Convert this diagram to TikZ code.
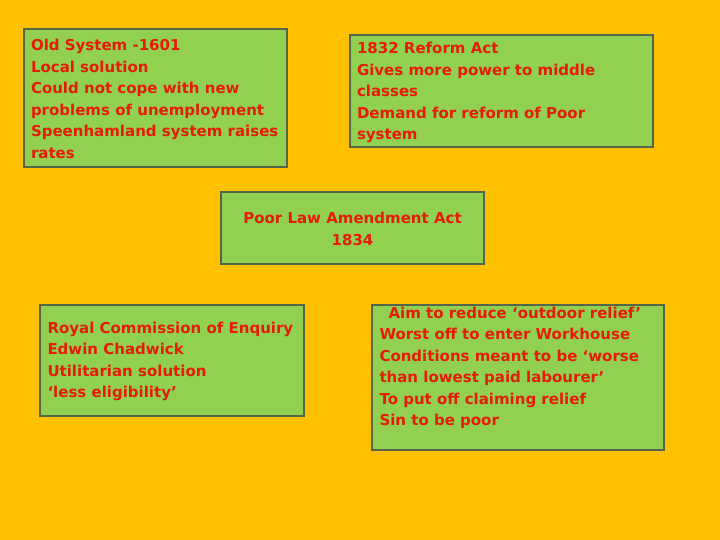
\documentclass[tikz,border=0pt]{standalone}
\usepackage{fontspec}
\setmainfont{DejaVu Sans}
\definecolor{bgorange}{RGB}{255,192,0}
\definecolor{boxgreen}{RGB}{146,208,80}
\definecolor{boxedge}{RGB}{85,100,75}
\definecolor{txtred}{RGB}{228,28,8}
\tikzset{
  card/.style={draw=boxedge, line width=2pt, fill=boxgreen, anchor=north west,
    text=txtred, font=\fontsize{15}{21.5}\selectfont\bfseries, inner xsep=7pt},
}
\newcommand{\cardtext}[3]{\parbox[t][#1][t]{#2}{\rule{0pt}{12pt}#3}}
\begin{document}
\begin{tikzpicture}[x=1pt,y=-1pt]
\fill[bgorange] (0,0) rectangle (720,540);
\useasboundingbox (0,0) rectangle (720,540);
\node[card, inner ysep=10pt] (old) at (23,28)
  {\cardtext{118pt}{249pt}{Old System -1601\\Local solution\\Could not cope with new\\problems of unemployment\\Speenhamland system raises\\rates}};
\node[card, inner ysep=7pt] (reform) at (349,34)
  {\cardtext{98pt}{289pt}{1832 Reform Act\\Gives more power to middle\\classes\\Demand for reform of Poor\\system}};
\node[card, inner ysep=20pt, inner xsep=8pt] (act) at (220,191)
  {\cardtext{32pt}{247pt}{\centering Poor Law Amendment Act\\1834}};
\node[card, inner ysep=16.3pt, inner xsep=7.5pt] (royal) at (39,304)
  {\cardtext{78.4pt}{249pt}{Royal Commission of Enquiry\\Edwin Chadwick\\Utilitarian solution\\‘less eligibility’}};
\node[card, inner ysep=1.1pt, inner xsep=7.5pt] (aim) at (371,304)
  {\cardtext{142.8pt}{277pt}{\hspace*{9pt}Aim to reduce ‘outdoor relief’\\Worst off to enter Workhouse\\Conditions meant to be ‘worse\\than lowest paid labourer’\\To put off claiming relief\\Sin to be poor}};
\end{tikzpicture}
\end{document}
